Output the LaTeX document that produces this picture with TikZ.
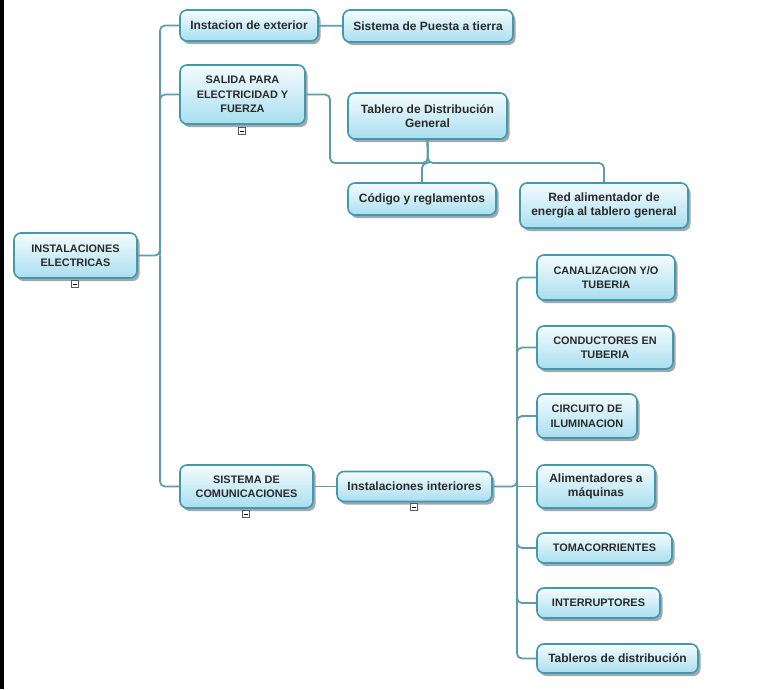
\documentclass[tikz,border=0pt]{standalone}
\usepackage{fontspec}
\setmainfont{Liberation Sans}
\usetikzlibrary{shadows,backgrounds}
\definecolor{bd}{HTML}{4299AF}
\definecolor{ln}{HTML}{5A9DAD}
\definecolor{tp}{HTML}{F4FCFE}
\definecolor{bt}{HTML}{A9DEEF}
\definecolor{sh}{HTML}{8A9498}
\definecolor{tx}{HTML}{2A2A2A}
\tikzset{
 box/.style={draw=bd, line width=1.6pt, rounded corners=7pt, top color=tp, bottom color=bt,
   drop shadow={shadow xshift=2.5pt, shadow yshift=-3pt, fill=sh, opacity=0.8},
   text=tx, align=center, inner sep=2pt, font=\fontsize{12}{14}\selectfont\bfseries},
 up/.style={box, font=\fontsize{10.9}{14.5}\selectfont\bfseries},
 conn/.style={draw=ln, line width=1.8pt, rounded corners=5pt},
 mk/.style={draw=gray!70!black, fill=white, line width=0.5pt, minimum size=7pt, inner sep=0pt,
   path picture={\draw[black, line width=0.8pt] ([xshift=1.6pt]path picture bounding box.west) -- ([xshift=-1.6pt]path picture bounding box.east);}}
}
\begin{document}
\begin{tikzpicture}[x=1pt,y=-1pt]
\useasboundingbox (0,0) rectangle (769,689);
% nodes
\node[up, minimum width=123pt, minimum height=45pt] (n1) at (75.5,255.5) {INSTALACIONES\\ELECTRICAS};
\node[box, minimum width=138pt, minimum height=31pt] (n2) at (249,25.5) {Instacion de exterior};
\node[box, minimum width=170pt, minimum height=32pt] (n3) at (428,26) {Sistema de Puesta a tierra};
\node[up, minimum width=125pt, minimum height=59pt] (n4) at (242.5,94.5) {SALIDA PARA\\ELECTRICIDAD Y\\FUERZA};
\node[box, minimum width=159pt, minimum height=46pt] (n5) at (427.5,116) {Tablero de Distribución\\General};
\node[box, minimum width=148pt, minimum height=32pt] (n6) at (422,199) {Código y reglamentos};
\node[box, minimum width=168pt, minimum height=45pt] (n7) at (604,205.5) {Red alimentador de\\energía al tablero general};
\node[up, minimum width=133pt, minimum height=43pt] (n8) at (246.5,486.5) {SISTEMA DE\\COMUNICACIONES};
\node[box, minimum width=155pt, minimum height=30pt] (n9) at (414.5,486.5) {Instalaciones interiores};
\node[up, minimum width=138pt, minimum height=45pt] (r1) at (606,277.5) {CANALIZACION Y/O\\TUBERIA};
\node[up, minimum width=136pt, minimum height=43pt] (r2) at (605,347.5) {CONDUCTORES EN\\TUBERIA};
\node[up, minimum width=100pt, minimum height=44pt] (r3) at (587,416) {CIRCUITO DE\\ILUMINACION};
\node[box, minimum width=118pt, minimum height=43pt] (r4) at (596,486.5) {Alimentadores a\\máquinas};
\node[up, minimum width=135pt, minimum height=30pt] (r5) at (604.5,548) {TOMACORRIENTES};
\node[up, minimum width=123pt, minimum height=30pt] (r6) at (598.5,603) {INTERRUPTORES};
\node[box, minimum width=161pt, minimum height=29pt] (r7) at (617.5,658.5) {Tableros de distribución};
% collapse markers
\node[mk] (m1) at (75,284) {};
\node[mk] (m2) at (242,131) {};
\node[mk] (m3) at (246,514) {};
\node[mk] (m4) at (414,507) {};
% junction coordinates
\coordinate (t) at (160,255.5);
\coordinate (b1) at (330,163);
\coordinate (b2) at (428,163);
\coordinate (v) at (517,486.5);
\begin{scope}[on background layer]
\fill[white] (0,0) rectangle (769,689);
\fill[black] (0,0) rectangle (4,689);
\draw[conn] (n1.east) -- (t) |- (n2.west);
\draw[conn] (t) |- (n4.west);
\draw[conn] (t) |- (n8.west);
\draw[conn] (n2) -- (n3);
\draw[conn] (n4.east) -| (b1) -- (b2) -- (n5.south);
\draw[conn] (n5.south) -- (b2) -| (n6.north);
\draw[conn] (n5.south) -- (b2) -| (n7.north);
\draw[conn] (n8) -- (n9);
\draw[conn] (n9.east) -- (v) |- (r1.west);
\draw[conn] (v) |- (r2.west);
\draw[conn] (v) |- (r3.west);
\draw[conn] (v) -- (r4.west);
\draw[conn] (v) |- (r5.west);
\draw[conn] (v) |- (r6.west);
\draw[conn] (v) |- (r7.west);
\end{scope}
\end{tikzpicture}
\end{document}
